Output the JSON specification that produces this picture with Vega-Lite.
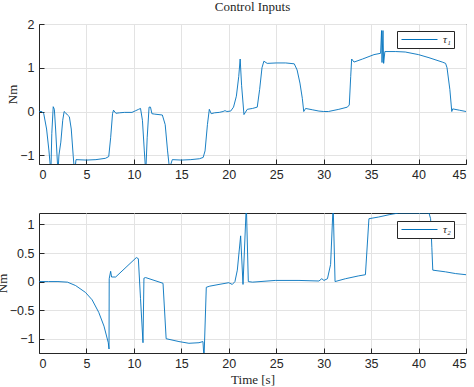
{
  "$schema": "https://vega.github.io/schema/vega-lite/v6.json",
  "background": "white",
  "padding": {"left": -5, "top": 0, "right": 0, "bottom": 0},
  "spacing": 31,
  "datasets": {
    "tau1": [
      {"t":0,"v":0},{"t":0.3,"v":0.0},{"t":0.5,"v":-0.05},{"t":0.8,"v":-0.4},{"t":1.05,"v":-0.9},{"t":1.25,"v":-1.4},{"t":1.35,"v":-0.5},{"t":1.5,"v":0.11},{"t":1.62,"v":0.05},{"t":1.75,"v":-0.4},{"t":1.9,"v":-1.0},{"t":2.0,"v":-1.4},{"t":2.1,"v":-1.0},{"t":2.3,"v":-0.7},{"t":2.5,"v":-0.2},{"t":2.65,"v":0.0},{"t":2.8,"v":-0.03},{"t":3.0,"v":-0.08},{"t":3.2,"v":-0.12},{"t":3.4,"v":-0.4},{"t":3.6,"v":-1.0},{"t":3.75,"v":-1.4},{"t":3.9,"v":-1.1},{"t":5,"v":-1.11},{"t":6,"v":-1.1},{"t":7.0,"v":-1.07},{"t":7.35,"v":-1.03},{"t":7.55,"v":-0.6},{"t":7.75,"v":-0.05},{"t":7.85,"v":0.03},{"t":8.1,"v":-0.04},{"t":8.5,"v":-0.03},{"t":9,"v":-0.02},{"t":9.8,"v":-0.02},{"t":10.2,"v":0.02},{"t":10.5,"v":0.05},{"t":10.7,"v":0.07},{"t":10.9,"v":-0.2},{"t":11.1,"v":-0.9},{"t":11.25,"v":-1.4},{"t":11.4,"v":-0.6},{"t":11.6,"v":0.1},{"t":11.75,"v":0.1},{"t":11.9,"v":-0.05},{"t":12.2,"v":-0.06},{"t":13.0,"v":-0.08},{"t":13.3,"v":-0.3},{"t":13.55,"v":-0.9},{"t":13.75,"v":-1.3},{"t":14.05,"v":-1.1},{"t":15,"v":-1.11},{"t":16,"v":-1.1},{"t":16.9,"v":-1.08},{"t":17.3,"v":-1.05},{"t":17.5,"v":-0.9},{"t":17.75,"v":-0.3},{"t":17.95,"v":0.05},{"t":18.15,"v":-0.05},{"t":18.5,"v":-0.03},{"t":19.0,"v":-0.02},{"t":19.4,"v":0.0},{"t":19.6,"v":0.02},{"t":19.8,"v":0.0},{"t":20.2,"v":0.01},{"t":20.5,"v":0.1},{"t":20.8,"v":0.35},{"t":21.05,"v":0.8},{"t":21.2,"v":1.2},{"t":21.35,"v":0.6},{"t":21.6,"v":-0.07},{"t":21.95,"v":0.05},{"t":22.5,"v":0.07},{"t":23.0,"v":0.1},{"t":23.25,"v":0.5},{"t":23.5,"v":1.0},{"t":23.7,"v":1.15},{"t":24.05,"v":1.1},{"t":25,"v":1.11},{"t":26,"v":1.11},{"t":26.9,"v":1.09},{"t":27.2,"v":0.95},{"t":27.5,"v":0.65},{"t":27.75,"v":0.3},{"t":27.9,"v":0.0},{"t":28.1,"v":0.07},{"t":28.8,"v":0.04},{"t":29.5,"v":0.01},{"t":30.0,"v":0.0},{"t":30.5,"v":0.0},{"t":31.6,"v":0.05},{"t":32.5,"v":0.1},{"t":32.7,"v":0.15},{"t":32.85,"v":0.8},{"t":32.95,"v":1.2},{"t":33.2,"v":1.13},{"t":34.1,"v":1.2},{"t":35.3,"v":1.3},{"t":36.0,"v":1.33},{"t":36.1,"v":1.85},{"t":36.15,"v":1.12},{"t":36.25,"v":1.85},{"t":36.32,"v":1.1},{"t":36.45,"v":1.37},{"t":37.6,"v":1.37},{"t":38.6,"v":1.36},{"t":40.0,"v":1.3},{"t":41.1,"v":1.23},{"t":42.5,"v":1.13},{"t":42.85,"v":1.1},{"t":43.0,"v":1.0},{"t":43.3,"v":0.5},{"t":43.5,"v":0.0},{"t":43.6,"v":0.06},{"t":44.3,"v":0.03},{"t":45,"v":0.0}
    ],
    "tau2": [
      {"t":0,"v":0},{"t":1,"v":0.0},{"t":2,"v":0.0},{"t":3,"v":-0.01},{"t":3.86,"v":-0.07},{"t":4.9,"v":-0.19},{"t":5.6,"v":-0.32},{"t":6.3,"v":-0.54},{"t":6.85,"v":-0.78},{"t":7.3,"v":-1.07},{"t":7.38,"v":-1.18},{"t":7.4,"v":0.05},{"t":7.55,"v":0.18},{"t":7.65,"v":0.08},{"t":8.08,"v":0.08},{"t":10.26,"v":0.42},{"t":10.47,"v":0.4},{"t":10.7,"v":-0.3},{"t":10.96,"v":-1.07},{"t":11.06,"v":0.06},{"t":11.24,"v":0.07},{"t":13.07,"v":-0.03},{"t":13.4,"v":-1.0},{"t":14.75,"v":-1.05},{"t":15.8,"v":-1.08},{"t":16.86,"v":-1.07},{"t":17.28,"v":-1.05},{"t":17.39,"v":-1.35},{"t":17.63,"v":-0.1},{"t":18.0,"v":-0.08},{"t":18.97,"v":-0.05},{"t":20.0,"v":-0.02},{"t":20.37,"v":-0.05},{"t":20.65,"v":0.0},{"t":20.9,"v":0.2},{"t":21.25,"v":0.8},{"t":21.5,"v":-0.05},{"t":21.85,"v":1.35},{"t":22.06,"v":0.0},{"t":22.5,"v":-0.01},{"t":24.9,"v":0.02},{"t":27.4,"v":0.02},{"t":29.5,"v":0.01},{"t":29.8,"v":0.05},{"t":30.03,"v":0.02},{"t":30.4,"v":0.05},{"t":30.73,"v":0.3},{"t":31.0,"v":1.35},{"t":31.2,"v":0.0},{"t":32.3,"v":0.05},{"t":33.7,"v":0.1},{"t":34.4,"v":0.12},{"t":34.77,"v":1.1},{"t":35.8,"v":1.13},{"t":36.9,"v":1.17},{"t":37.9,"v":1.2},{"t":41.1,"v":1.2},{"t":41.27,"v":1.1},{"t":41.4,"v":0.6},{"t":41.5,"v":0.2},{"t":42.85,"v":0.17},{"t":43.9,"v":0.14},{"t":45,"v":0.12}
    ]
  },
  "config": {
    "view": {"stroke": "#262626", "strokeWidth": 1},
    "axis": {
      "grid": true, "gridColor": "#e3e3e3", "gridWidth": 1,
      "domainColor": "#262626", "tickColor": "#262626", "tickSize": -5,
      "labelFont": "Liberation Sans", "labelFontSize": 12.5, "labelColor": "#262626",
      "titleFont": "Liberation Serif", "titleFontSize": 13, "titleFontWeight": "normal", "titleColor": "#262626"
    },
    "axisX": {"labelPadding": 9},
    "axisY": {"labelPadding": 10, "titlePadding": 0},
    "legend": {
      "strokeColor": "#262626", "fillColor": "white", "padding": 3,
      "symbolType": "M-1,0H8", "symbolSize": 64, "symbolStrokeWidth": 1, "symbolStrokeColor": "#0072BD",
      "labelFont": "Liberation Serif", "labelFontStyle": "italic", "labelFontSize": 11,
      "labelOffset": 32, "labelColor": "#262626"
    },
    "title": {"font": "Liberation Serif", "fontSize": 13, "fontWeight": "normal", "color": "#262626", "offset": 4}
  },
  "resolve": {"scale": {"color": "independent"}, "legend": {"color": "independent"}},
  "vconcat": [
    {
      "title": "Control Inputs",
      "width": 427, "height": 140,
      "data": {"name": "tau1"},
      "transform": [{"calculate": "'τ₁'", "as": "series"}],
      "mark": {"type": "line", "clip": true, "strokeWidth": 0.9, "interpolate": "linear"},
      "encoding": {
        "x": {"field": "t", "type": "quantitative", "scale": {"domain": [0, 45], "nice": false}, "axis": {"values": [0,5,10,15,20,25,30,35,40,45], "title": null}},
        "y": {"field": "v", "type": "quantitative", "scale": {"domain": [-1.2, 2], "nice": false, "zero": false}, "axis": {"values": [-1,0,1,2], "format": "~g", "title": "Nm"}},
        "color": {"field": "series", "type": "nominal", "scale": {"range": ["#0072BD"]}, "legend": {"title": null, "orient": "none", "legendX": 358, "legendY": 7}}
      }
    },
    {
      "width": 427, "height": 140,
      "data": {"name": "tau2"},
      "transform": [{"calculate": "'τ₂'", "as": "series"}],
      "mark": {"type": "line", "clip": true, "strokeWidth": 0.9, "interpolate": "linear"},
      "encoding": {
        "x": {"field": "t", "type": "quantitative", "scale": {"domain": [0, 45], "nice": false}, "axis": {"values": [0,5,10,15,20,25,30,35,40,45], "title": "Time [s]"}},
        "y": {"field": "v", "type": "quantitative", "scale": {"domain": [-1.25, 1.2], "nice": false, "zero": false}, "axis": {"values": [-1,-0.5,0,0.5,1], "format": "~g", "title": "Nm"}},
        "color": {"field": "series", "type": "nominal", "scale": {"range": ["#0072BD"]}, "legend": {"title": null, "orient": "none", "legendX": 358, "legendY": 8}}
      }
    }
  ]
}
